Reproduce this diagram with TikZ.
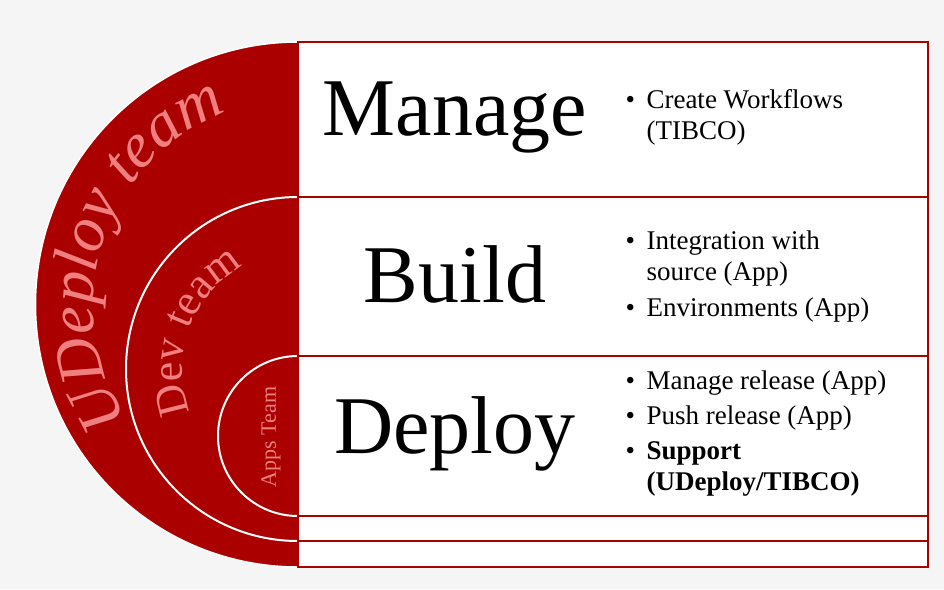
\documentclass[tikz,border=0pt]{standalone}
\usepackage{fontspec}
\setmainfont{Liberation Serif}
\usetikzlibrary{decorations.text}
\definecolor{teamred}{HTML}{AA0000}
\definecolor{teampink}{HTML}{F08080}
\tikzset{
  band/.style={draw=teamred, line width=1.5pt, fill=white},
  ring/.style={draw=white, line width=2pt, fill=teamred},
  stage/.style={font=\fontsize{82}{82}\selectfont},
  items/.style={anchor=north west, align=left, font=\fontsize{27}{31}\selectfont},
  arctext/.style={decorate, decoration={text along path, text align=center, text={#1}}}
}
\newcommand{\itm}{\makebox[21pt][l]{\textbullet}}
\begin{document}
\begin{tikzpicture}[x=1pt,y=-1pt]
\fill[gray!8] (0,0) rectangle (944,589);
\useasboundingbox (0,0) rectangle (944,589);
% team rings
\fill[teamred] (298,42) arc[start angle=90,end angle=270,x radius=262.5,y radius=-262.5] -- cycle;
\draw[white, line width=1.5pt] (298,42) arc[start angle=90,end angle=270,x radius=262.5,y radius=-262.5];
\draw[ring] (298,197) arc[start angle=90,end angle=270,x radius=172,y radius=-172];
\draw[ring] (298,356) arc[start angle=90,end angle=270,x radius=80,y radius=-80];
% bands
\draw[band] (298,42) rectangle (928,197);
\draw[band] (298,197) rectangle (928,356);
\draw[band] (298,356) rectangle (928,516);
\draw[band] (298,516) rectangle (928,541);
\draw[band] (298,541) rectangle (928,567);
% curved labels
\path[arctext={|\fontsize{64}{64}\selectfont\itshape\color{teampink}|UDeploy team}]
  (298,304.5) ++(140:205) arc[start angle=140,end angle=256,radius=205];
\path[arctext={|\fontsize{44}{44}\selectfont\color{teampink}|Dev team}]
  (298,369) ++(150:116) arc[start angle=150,end angle=250,radius=116];
\node[rotate=90, text=teampink, font=\fontsize{22}{22}\selectfont] (apps) at (271,437) {Apps Team};
% stages
\node[stage] (manage) at (455,118) {Manage};
\node[stage] (build) at (455,274) {Build};
\node[stage] (deploy) at (455,434) {Deploy};
\node[items] (manageitems) at (622,86) {\itm Create Workflows\\\hspace*{21pt}(TIBCO)};
\node[items] (builditems) at (622,227) {\itm Integration with\\\hspace*{21pt}source (App)\\[5pt]\itm Environments (App)};
\node[items] (deployitems) at (622,367) {\itm Manage release (App)\\[4pt]\itm Push release (App)\\[4pt]\itm \textbf{Support}\\\hspace*{21pt}\textbf{(UDeploy/TIBCO)}};
\end{tikzpicture}
\end{document}
